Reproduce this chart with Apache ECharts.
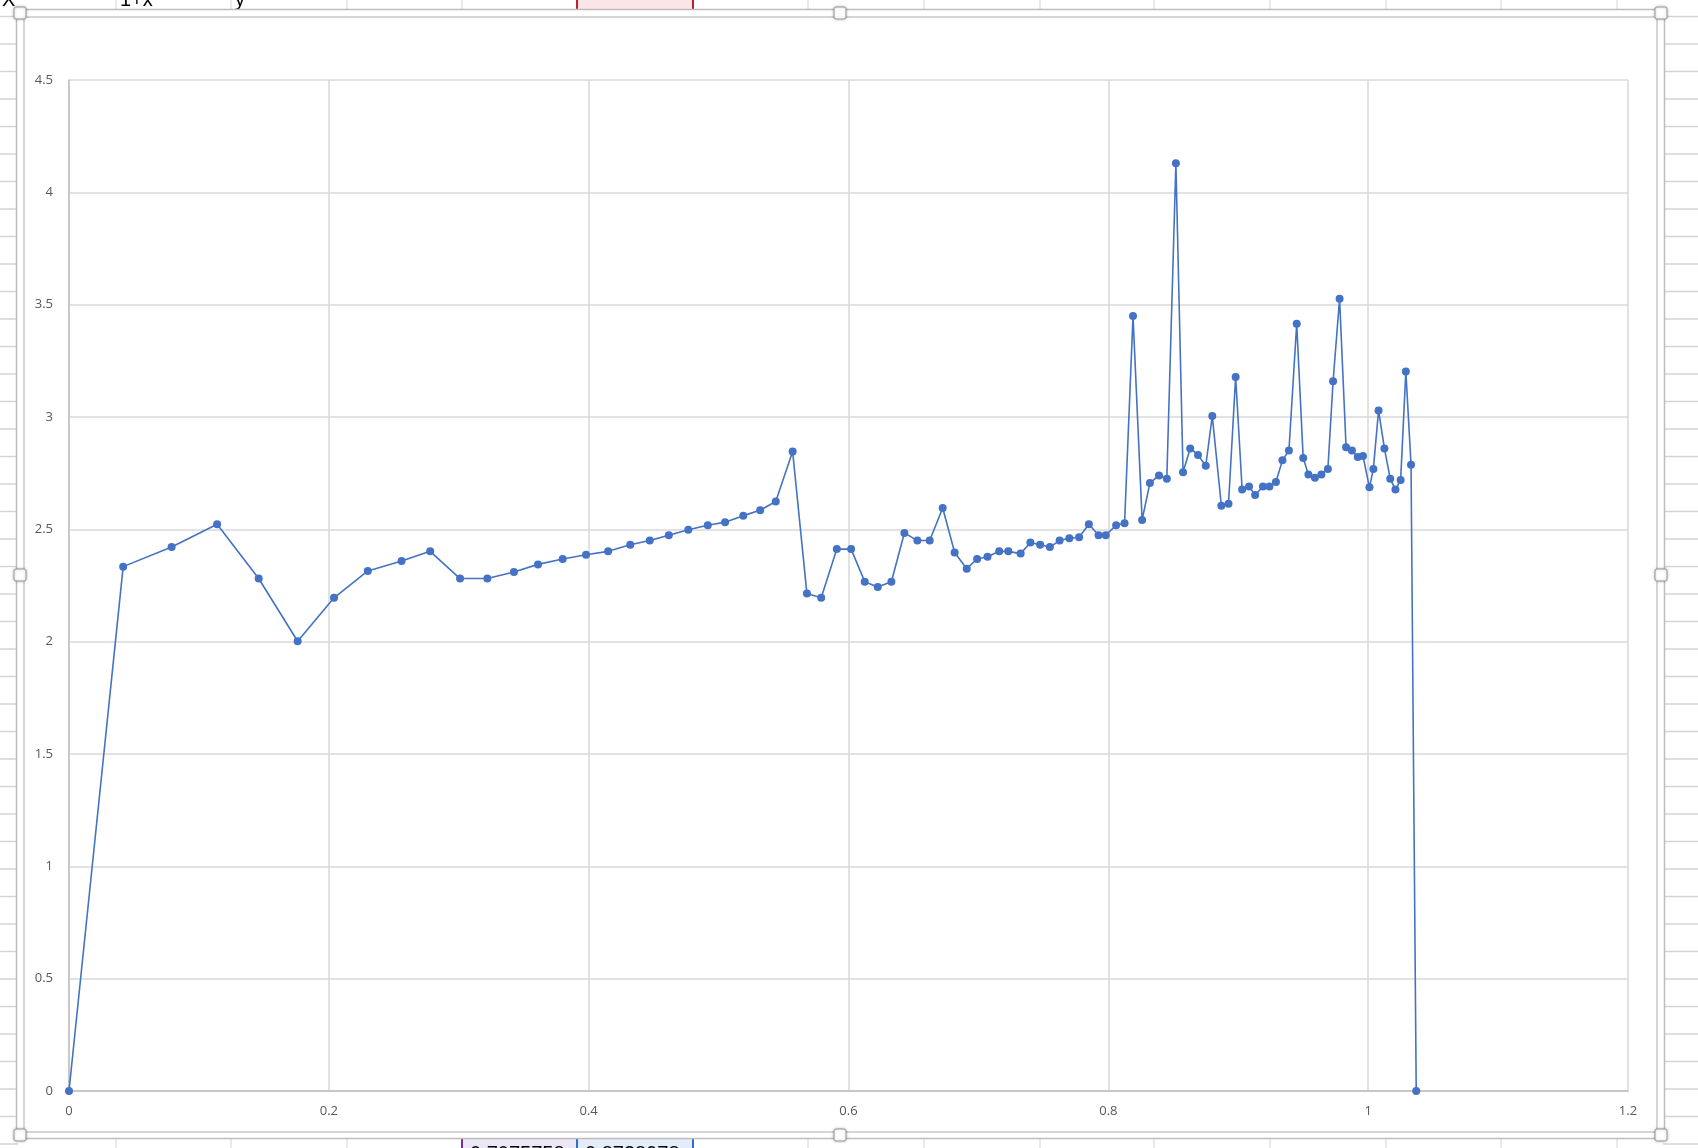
<!DOCTYPE html>
<html>
<head>
<meta charset="utf-8">
<script src="https://cdn.jsdelivr.net/npm/echarts@6/dist/echarts.min.js"></script>
<style>html,body{margin:0;padding:0;background:#fff;}#c{width:1698px;height:1148px;}</style>
</head>
<body>
<div id="c"></div>
<script>
const xValues = [0, 0.0417, 0.079, 0.114, 0.146, 0.176, 0.204, 0.230, 0.256, 0.278, 0.301, 0.322, 0.3425, 0.361, 0.380, 0.398, 0.415, 0.432, 0.447, 0.4617, 0.4767, 0.4917, 0.505, 0.519, 0.532, 0.544, 0.557, 0.568, 0.579, 0.591, 0.602, 0.6125, 0.6225, 0.633, 0.643, 0.653, 0.6625, 0.6725, 0.6817, 0.691, 0.699, 0.707, 0.716, 0.723, 0.7325, 0.740, 0.7475, 0.755, 0.7625, 0.770, 0.7775, 0.785, 0.7925, 0.798, 0.806, 0.8125, 0.819, 0.826, 0.832, 0.839, 0.845, 0.852, 0.8575, 0.863, 0.869, 0.875, 0.880, 0.887, 0.8925, 0.898, 0.903, 0.9083, 0.913, 0.919, 0.924, 0.929, 0.934, 0.939, 0.945, 0.950, 0.954, 0.959, 0.964, 0.969, 0.973, 0.978, 0.983, 0.9875, 0.992, 0.996, 1.001, 1.004, 1.008, 1.0125, 1.017, 1.021, 1.025, 1.029, 1.033, 1.037];
const yValues = [0, 2.334, 2.421, 2.523, 2.281, 2.002, 2.195, 2.315, 2.359, 2.402, 2.281, 2.281, 2.310, 2.344, 2.368, 2.387, 2.402, 2.431, 2.450, 2.474, 2.498, 2.518, 2.532, 2.561, 2.585, 2.624, 2.846, 2.214, 2.195, 2.412, 2.412, 2.267, 2.243, 2.267, 2.484, 2.450, 2.450, 2.595, 2.397, 2.325, 2.368, 2.378, 2.402, 2.402, 2.392, 2.441, 2.431, 2.421, 2.450, 2.460, 2.465, 2.523, 2.474, 2.474, 2.518, 2.527, 3.449, 2.542, 2.706, 2.740, 2.725, 4.129, 2.754, 2.860, 2.831, 2.783, 3.005, 2.605, 2.614, 3.178, 2.677, 2.691, 2.653, 2.691, 2.691, 2.711, 2.807, 2.851, 3.415, 2.817, 2.744, 2.730, 2.744, 2.769, 3.159, 3.526, 2.865, 2.851, 2.822, 2.826, 2.687, 2.769, 3.029, 2.860, 2.725, 2.677, 2.720, 3.203, 2.788, 0];
const xTicks = [0, 0.2, 0.4, 0.6, 0.8, 1, 1.2];
const yTicks = [0, 0.5, 1, 1.5, 2, 2.5, 3, 3.5, 4, 4.5];

const points = xValues.map((x, i) => [x, yValues[i]]);

// spreadsheet background decoration
const sheetLine = '#d4d4d4';
const graphics = [];
const colX = [116, 231, 347, 462, 577, 693, 808, 924, 1040, 1154, 1270, 1386, 1501, 1617];
colX.forEach(x => {
  graphics.push({type:'line', z:0, shape:{x1:x, y1:0, x2:x, y2:12}, style:{stroke:sheetLine, lineWidth:1}});
  graphics.push({type:'line', z:0, shape:{x1:x, y1:1136, x2:x, y2:1148}, style:{stroke:sheetLine, lineWidth:1}});
});
for (let y = 16.5; y < 1148; y += 27.5) {
  graphics.push({type:'line', z:0, shape:{x1:0, y1:y, x2:18, y2:y}, style:{stroke:sheetLine, lineWidth:1.5}});
  graphics.push({type:'line', z:0, shape:{x1:1663, y1:y, x2:1698, y2:y}, style:{stroke:sheetLine, lineWidth:1.5}});
}
graphics.push({type:'rect', z:0, shape:{x:577, y:-2, width:116, height:12}, style:{fill:'#fbe5e6', stroke:'#c0222b', lineWidth:2}});
graphics.push({type:'rect', z:0, shape:{x:462, y:1138, width:115, height:14}, style:{fill:'#ece6f5', stroke:'#7030a0', lineWidth:2}});
graphics.push({type:'rect', z:0, shape:{x:577, y:1138, width:116, height:14}, style:{fill:'#e3ecf8', stroke:'#2f6fd0', lineWidth:2}});
graphics.push({type:'text', z:1, style:{text:'X', x:2, y:-10, font:'20px "Liberation Sans", Arial', fill:'#000'}});
graphics.push({type:'text', z:1, style:{text:'1+x', x:120, y:-10, font:'20px "Liberation Sans", Arial', fill:'#000'}});
graphics.push({type:'text', z:1, style:{text:'y', x:235, y:-10, font:'20px "Liberation Sans", Arial', fill:'#000'}});
graphics.push({type:'text', z:1, style:{text:'0.7075758', x:470, y:1144, font:'20px "Liberation Sans", Arial', fill:'#000'}});
graphics.push({type:'text', z:1, style:{text:'0.8738978', x:585, y:1144, font:'20px "Liberation Sans", Arial', fill:'#000'}});
graphics.push({type:'rect', z:2, shape:{x:16.5, y:9.5, width:1648, height:1129}, style:{fill:'#fff', stroke:'#bdbdbd', lineWidth:1.5}});
graphics.push({type:'rect', z:3, shape:{x:24, y:17, width:1633, height:1115}, style:{fill:'#fff', stroke:'#c8c8c8', lineWidth:1.5}});
const hx = [20, 840, 1661], hy = [13, 575, 1135];
hx.forEach(x => hy.forEach(y => {
  if (x === 840 && y === 575) return;
  graphics.push({type:'rect', z:4, shape:{x:x-6, y:y-6, width:12, height:12, r:2}, style:{fill:'#fff', stroke:'#9a9a9a', lineWidth:1, shadowBlur:3, shadowColor:'rgba(0,0,0,0.25)'}});
}));

const chart = echarts.init(document.getElementById('c'), null, {renderer:'canvas'});
chart.setOption({
  animation: false,
  backgroundColor: '#ffffff',
  graphic: { elements: graphics },
  grid: { left: 69, right: 70, top: 80, bottom: 57, containLabel: false, z: 10 },
  xAxis: {
    type: 'value', min: 0, max: 1.2, interval: 0.2, z: 10,
    axisLine: { show: true, lineStyle: { color: '#bfbfbf', width: 1.5 } },
    axisTick: { show: false },
    splitLine: { show: true, lineStyle: { color: '#d9d9d9', width: 1.5 } },
    axisLabel: { color: '#595959', fontSize: 13, fontFamily: '"Open Sans", "Noto Sans", sans-serif', margin: 14,
      formatter: v => { const t = xTicks.find(a => Math.abs(a - v) < 1e-9); return t === undefined ? '' : String(t); } }
  },
  yAxis: {
    type: 'value', min: 0, max: 4.5, interval: 0.5, z: 10,
    axisLine: { show: true, lineStyle: { color: '#bfbfbf', width: 1.5 } },
    axisTick: { show: false },
    splitLine: { show: true, lineStyle: { color: '#d9d9d9', width: 1.5 } },
    axisLabel: { color: '#595959', fontSize: 13, fontFamily: '"Open Sans", "Noto Sans", sans-serif', margin: 16,
      formatter: v => { const t = yTicks.find(a => Math.abs(a - v) < 1e-9); return t === undefined ? '' : String(t); } }
  },
  series: [{
    type: 'line', z: 20,
    data: points,
    symbol: 'circle', symbolSize: 8,
    itemStyle: { color: '#4472C4' },
    lineStyle: { color: '#4472C4', width: 1.6 }
  }]
});
</script>
</body>
</html>
